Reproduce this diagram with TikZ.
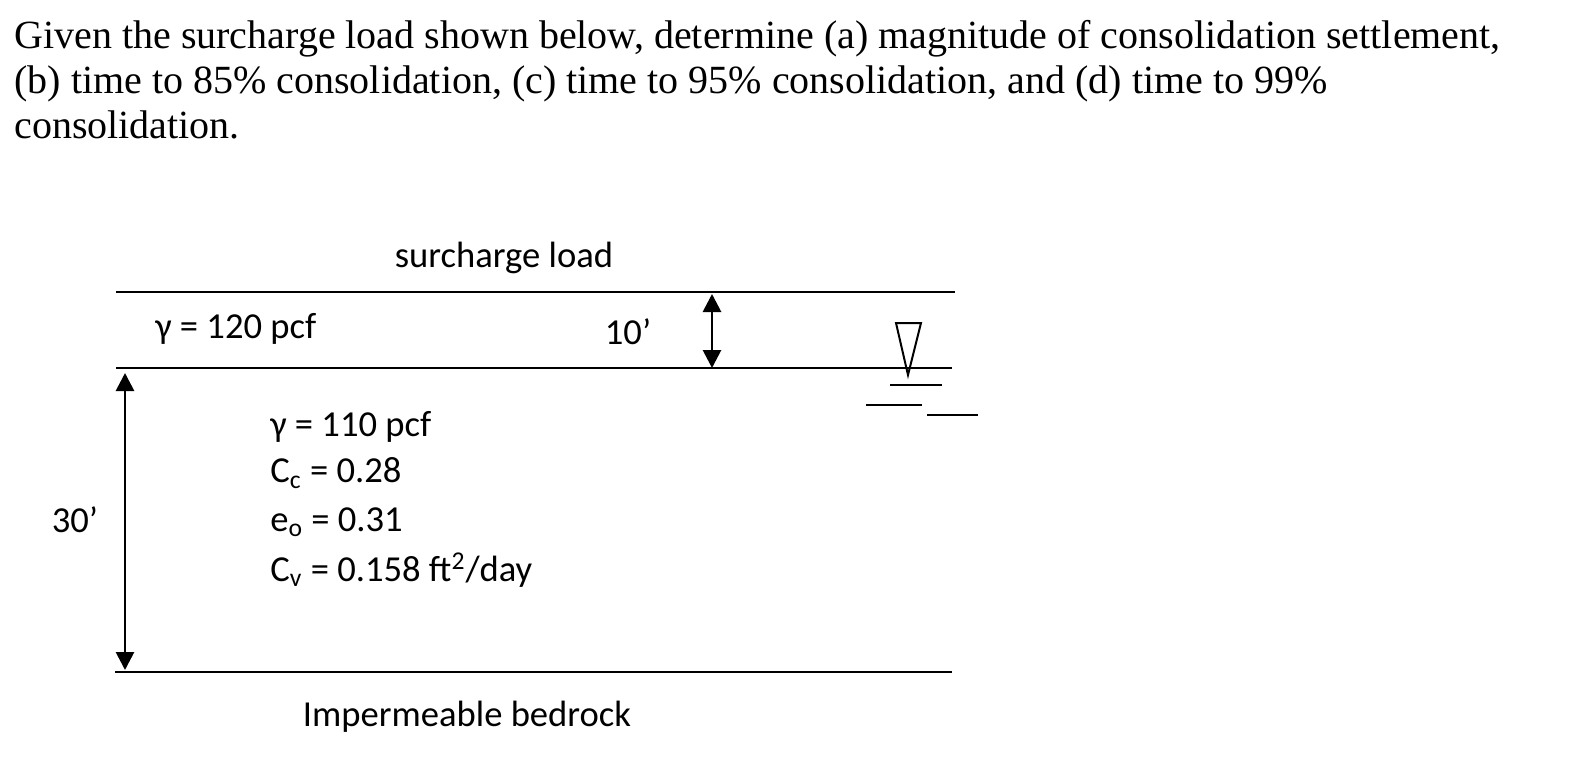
\documentclass[tikz,border=0pt]{standalone}
\usepackage{fontspec}
\setmainfont{Liberation Serif}
\newfontfamily\carlitofont{Carlito}
\usetikzlibrary{arrows.meta}
\begin{document}
\begin{tikzpicture}[x=0.5pt,y=-0.5pt,
  ln/.style={line width=1.1pt},
  dim/.style={line width=1.4pt,{Triangle[length=9pt,width=9pt]}-{Triangle[length=9pt,width=9pt]}},
  lab/.style={font=\carlitofont\fontsize{18.3}{21}\selectfont,inner sep=0pt},
  ttl/.style={font=\fontsize{20}{22.5}\selectfont,inner sep=0pt,anchor=north west,align=left}]
\useasboundingbox (0,0) rectangle (1575,765);
\node[ttl] (t) at (14,20) {Given the surcharge load shown below, determine (a) magnitude of consolidation settlement,\\(b) time to 85\% consolidation, (c) time to 95\% consolidation, and (d) time to 99\%\\consolidation.};
\coordinate (a1) at (116,292); \coordinate (a2) at (955,292);
\coordinate (b1) at (116,368); \coordinate (b2) at (952,368);
\coordinate (c1) at (115,672); \coordinate (c2) at (952,672);
\draw[ln] (a1)--(a2); \draw[ln] (b1)--(b2); \draw[ln] (c1)--(c2);
\coordinate (d1) at (712,294); \coordinate (d2) at (712,368);
\draw[dim] (d1)--(d2);
\coordinate (e1) at (125,373); \coordinate (e2) at (125,670);
\draw[dim] (e1)--(e2);
\coordinate (w1) at (896,323); \coordinate (w2) at (921,323); \coordinate (w3) at (908,375);
\draw[line width=1pt] (w1)--(w2)--(w3)--cycle;
\coordinate (l1) at (890,385); \coordinate (l2) at (942,385);
\coordinate (l3) at (866,405); \coordinate (l4) at (922,405);
\coordinate (l5) at (927,415); \coordinate (l6) at (978,415);
\draw[ln] (l1)--(l2); \draw[ln] (l3)--(l4); \draw[ln] (l5)--(l6);
\node[lab] (s) at (504,258) {surcharge load};
\node[lab,anchor=west] (g1) at (155,329) {γ = 120 pcf};
\node[lab] (ten) at (628,332) {10’};
\node[lab,anchor=west] (g2) at (270,427) {γ = 110 pcf};
\node[lab,anchor=west] (cc) at (270,473) {C\textsubscript{c} = 0.28};
\node[lab,anchor=west] (eo) at (270,522) {e\textsubscript{o} = 0.31};
\node[lab,anchor=west] (cv) at (270,570) {C\textsubscript{v} = 0.158 ft\textsuperscript{2}/day};
\node[lab] (th) at (75,520) {30’};
\node[lab] (ib) at (467,717) {Impermeable bedrock};
\end{tikzpicture}
\end{document}
